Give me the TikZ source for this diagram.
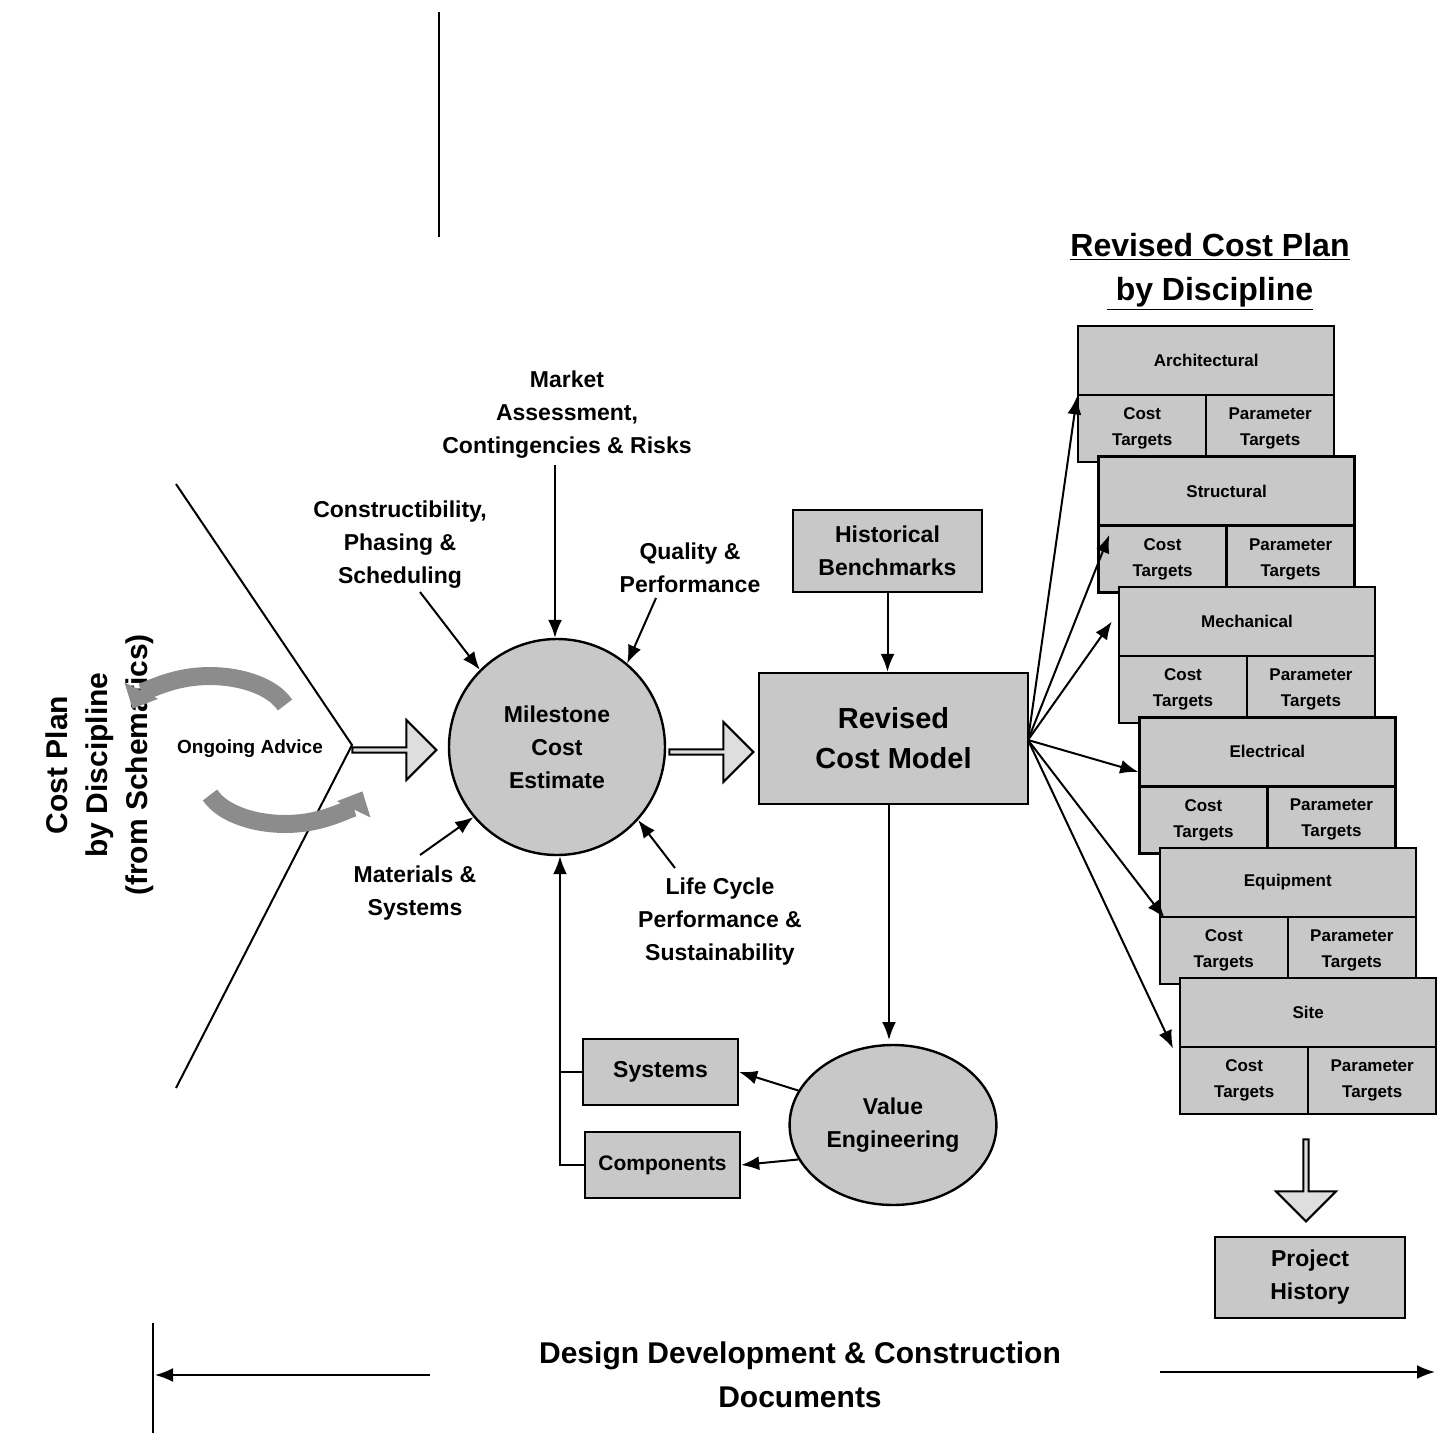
\documentclass[tikz,border=0pt]{standalone}
\usepackage{fontspec}
\setmainfont{Liberation Sans}
\usetikzlibrary{arrows.meta,shapes.arrows,shapes.geometric}
\definecolor{bx}{HTML}{C8C8C8}
\begin{document}
\begin{tikzpicture}[x=0.5pt,y=-0.5pt,
 box/.style={draw,fill=bx,line width=1.2pt,inner sep=0pt,font=\bfseries},
 lbl/.style={font=\bfseries\fontsize{11.5}{16.5}\selectfont,align=center},
 sm/.style={font=\bfseries\fontsize{8.5}{13}\selectfont,align=center},
 arr/.style={-{Latex[length=9pt,width=7pt]},line width=1pt},
 harr/.style={single arrow,draw,fill=bx!60,line width=1pt,single arrow head extend=5pt,inner sep=0pt}]
\useasboundingbox (0,0) rectangle (1447,1435);
\draw[line width=0.8pt] (439,12) -- (439,237);
% title
\node[font=\bfseries\fontsize{16}{22}\selectfont,align=center] (title) at (1210,272) {\underline{Revised Cost Plan}\\\underline{ by Discipline}};
% discipline stacks
\foreach \n/\t [count=\i from 0] in {arch/Architectural,str/Structural,mech/Mechanical,elec/Electrical,equip/Equipment/Special,site/Site}{
 \pgfmathsetmacro{\X}{1077+20.4*\i}
 \pgfmathsetmacro{\Y}{325+130.4*\i}
 \node[box,minimum width=128pt,minimum height=34.5pt,anchor=north west,sm] (\n) at (\X,\Y) {\t};
 \node[box,minimum width=64pt,minimum height=33.5pt,anchor=north west,sm] (\n c) at (\X,\Y+69) {Cost\\Targets};
 \node[box,minimum width=64pt,minimum height=33.5pt,anchor=north west,sm] (\n p) at (\X+128,\Y+69) {Parameter\\Targets};
}
% cost model
\node[box,minimum width=134.5pt,minimum height=65.5pt,font=\bfseries\fontsize{14.5}{20}\selectfont,align=center] (rcm) at (893.5,738.5) {Revised\\Cost Model};
\node[box,minimum width=94.5pt,minimum height=41pt,lbl] (hist) at (887.5,551) {Historical\\Benchmarks};
\node[circle,draw,fill=bx,line width=1.2pt,minimum size=108pt,lbl] (mce) at (557,747) {Milestone\\Cost\\Estimate};
\node[ellipse,draw,fill=bx,line width=1.2pt,minimum width=100pt,minimum height=80pt,lbl] (ve) at (893,1125) {Value\\Engineering};
\node[box,minimum width=77.5pt,minimum height=33pt,lbl] (sys) at (660.5,1072) {Systems};
\node[box,minimum width=77.5pt,minimum height=33pt,font=\bfseries\fontsize{10.5}{14}\selectfont] (comp) at (662.5,1165) {Components};
\node[box,minimum width=95pt,minimum height=40.5pt,lbl] (ph) at (1310,1277.5) {Project\\History};
% connectors
\draw[arr] (hist) -- (hist|-rcm.north);
\draw[arr] (rcm.south-|889,0) -- (889,1040);
\coordinate (rcmR) at (1028,740);
\draw[arr] (rcmR) -- (arch.south west);
\draw[arr] (rcmR) -- ([xshift=6pt,yshift=-4pt]str.south west);
\draw[arr] (rcmR) -- ([xshift=-3pt]mech.west);
\draw[arr] (rcmR) -- ([yshift=-10pt]elec.west);
\draw[arr] (rcmR) -- ([xshift=3pt]equip.south west);
\draw[arr] (rcmR) -- ([xshift=-3pt]site.south west);
\draw[arr] (ve.160) -- (sys.east);
\draw[arr] (ve.200) -- (comp.east);
\coordinate (jt) at (560,1072);
\coordinate (jb) at (560,1165);
\draw[line width=1pt] (sys.west) -- (jt);
\draw[line width=1pt] (comp.west) -- (jb) -- (jt);
\draw[arr] (jt) -- (mce.south-|jt);
% labels
\node[lbl] (mkt) at (567,415) {Market\\Assessment,\\Contingencies \& Risks};
\draw[arr] (555,465) -- (mce.north-|555,0);
\node[lbl] (con) at (400,545) {Constructibility,\\Phasing \&\\Scheduling};
\draw[arr] (420,592) -- (mce.135);
\node[lbl] (qp) at (690,568) {Quality \&\\Performance};
\draw[arr] (656,598) -- (mce.50);
\node[lbl] (ms) at (415,893) {Materials \&\\Systems};
\draw[arr] (420,855) -- (mce.220);
\node[lbl] (lc) at (720,922) {Life Cycle\\Performance \&\\Sustainability};
\draw[arr] (675,868) -- (mce.318);
% hollow arrows
\node[harr,minimum width=30pt,minimum height=42pt] (h1) at (393,750) {};
\node[harr,minimum width=30pt,minimum height=42pt] (h2) at (710,752) {};
\node[harr,shape border rotate=270,minimum width=30pt,minimum height=41pt] (h3) at (1306,1179) {};
% V
\coordinate (vt) at (176,484); \coordinate (vm) at (352,745); \coordinate (vb) at (176,1088);
\draw[line width=1pt] (vt) -- (vm) -- (vb);
\node[rotate=90,font=\bfseries\fontsize{15}{20}\selectfont,align=center] (cp) at (100,765) {Cost Plan\\by Discipline\\(from Schematics)};
% ongoing advice
\draw[bx!70!black,line width=9pt,-{Triangle[length=10pt,width=18pt]}] (285,705) arc[start angle=20,end angle=165,x radius=40pt,y radius=22pt];
\draw[bx!70!black,line width=9pt,-{Triangle[length=10pt,width=18pt]}] (210,795) arc[start angle=200,end angle=345,x radius=40pt,y radius=22pt];
\node[font=\bfseries\fontsize{9.5}{12}\selectfont] (oa) at (250,749) {Ongoing Advice};
% bottom
\draw[line width=1pt] (153,1323) -- (153,1433);
\node[font=\bfseries\fontsize{15}{22}\selectfont,align=center] (dd) at (800,1375) {Design Development \& Construction\\Documents};
\coordinate (bl) at (155,1375); \coordinate (br) at (1435,1372);
\draw[arr] (430,1375) -- (bl);
\draw[arr] (1160,1372) -- (br);
\end{tikzpicture}
\end{document}
